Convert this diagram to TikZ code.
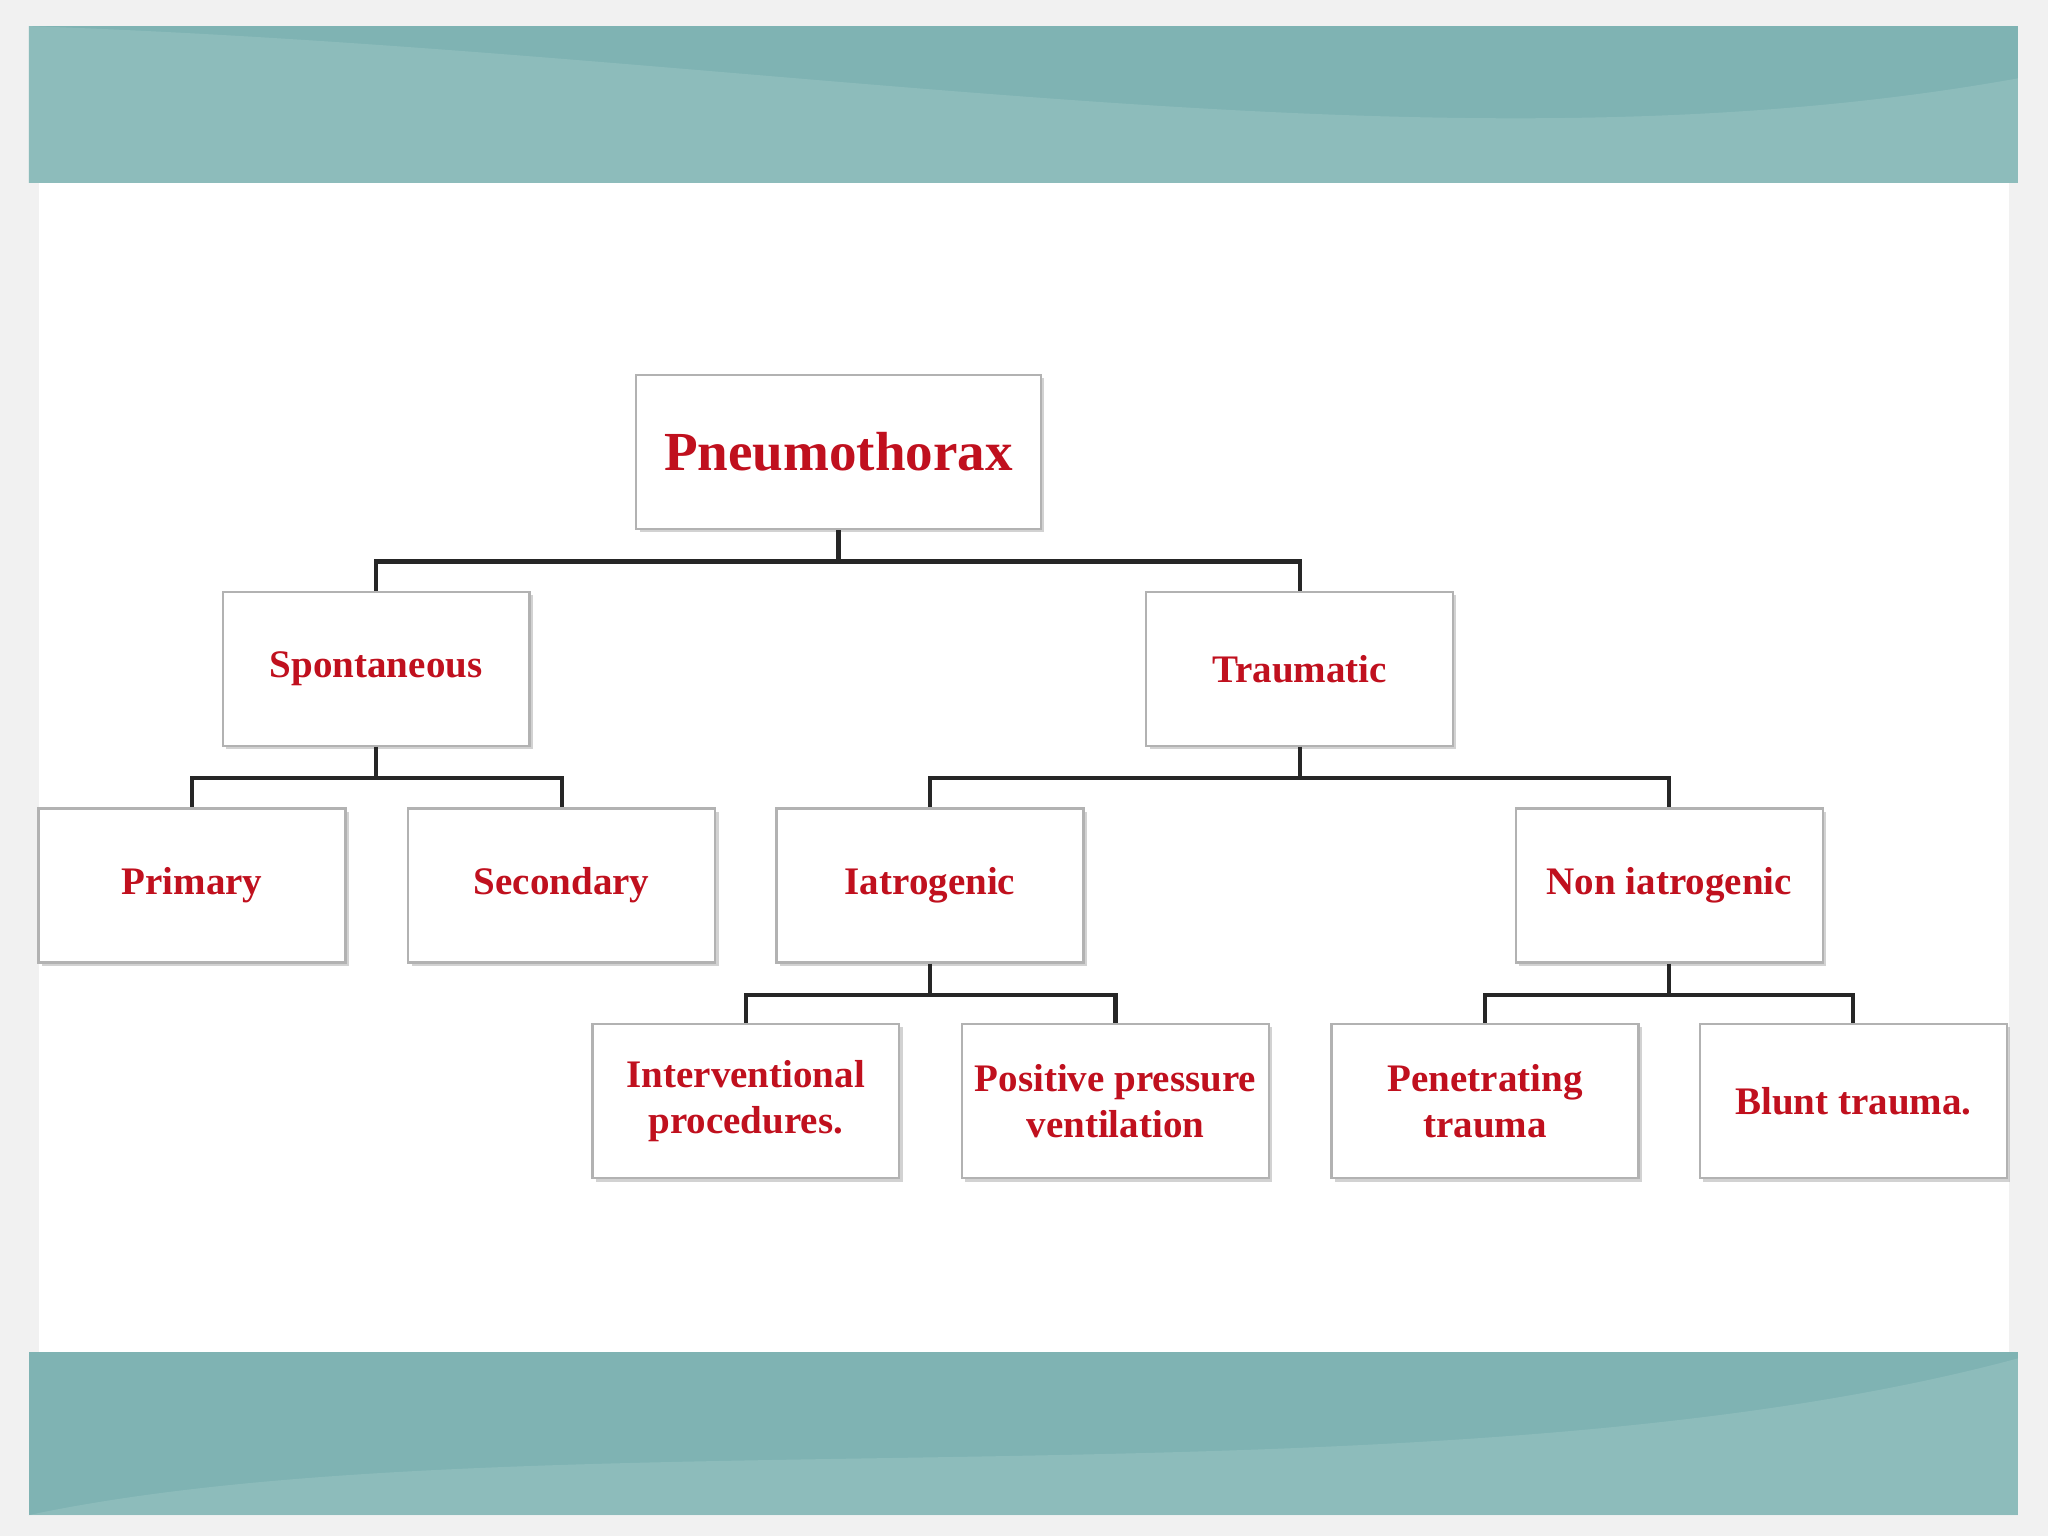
\documentclass[tikz,border=0pt]{standalone}
\usepackage{fontspec}
\setmainfont{Liberation Serif}
\usetikzlibrary{shadows}
\definecolor{teal1}{HTML}{7FB3B3}
\definecolor{teal2}{HTML}{9CC6C4}
\definecolor{bgc}{HTML}{F1F1F1}
\definecolor{redt}{HTML}{C0101E}
\begin{document}
\begin{tikzpicture}[x=0.02cm,y=-0.02cm,
  box/.style={draw=gray!60,line width=1pt,fill=white,minimum width=4.7cm,minimum height=2.36cm,
    align=center,font=\bfseries\fontsize{17}{20}\selectfont,text=redt,inner sep=2pt,
    drop shadow={shadow xshift=1.5pt,shadow yshift=-1.5pt,opacity=0.35}},
  conn/.style={line width=1.8pt,black!85}]
\useasboundingbox (0,0) rectangle (1568,1176);
\fill[bgc] (0,0) rectangle (1568,1176);
\fill[teal1] (22,20) rectangle (1545,140);
\fill[teal2,opacity=.5] (22,20) .. controls (600,40) and (1100,140) .. (1545,60) -- (1545,140) -- (22,140) -- cycle;
\fill[teal1] (22,1035) rectangle (1545,1160);
\fill[teal2,opacity=.5] (22,1160) .. controls (400,1080) and (1100,1160) .. (1545,1040) -- (1545,1160) -- cycle;
\fill[white] (30,140) rectangle (1538,1035);
\node[box,minimum width=6.2cm,font=\bfseries\fontsize{24}{28}\selectfont] (p) at (642,346) {Pneumothorax};
\node[box] (s) at (288,512) {Spontaneous};
\node[box] (t) at (995,512) {Traumatic};
\node[box] (pr) at (147,678) {Primary};
\node[box] (se) at (430,678) {Secondary};
\node[box] (ia) at (712,678) {Iatrogenic};
\node[box] (ni) at (1278,678) {Non iatrogenic};
\node[box] (iv) at (571,843) {Interventional\\procedures.};
\node[box] (pp) at (854,843) {Positive pressure\\ventilation};
\node[box] (pe) at (1137,843) {Penetrating\\trauma};
\node[box] (bl) at (1419,843) {Blunt trauma.};
\foreach \a/\b in {p/s,p/t,s/pr,s/se,t/ia,t/ni,ia/iv,ia/pp,ni/pe,ni/bl}
  \draw[conn] (\a.south) -- ++(0,24) -| (\b.north);
\end{tikzpicture}
\end{document}
